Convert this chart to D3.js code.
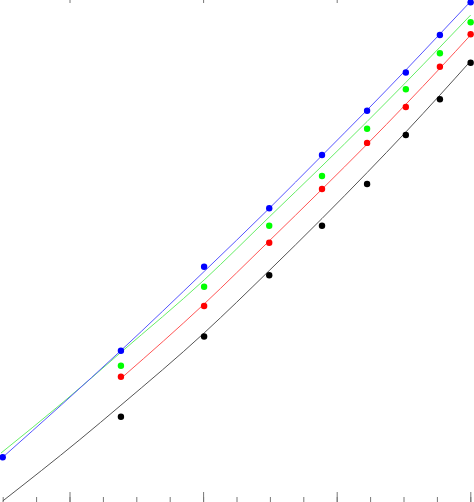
<!DOCTYPE html>
<html lang="en">
  <head>
    <meta charset="UTF-8" />
    <title>Fitted series</title>
    <script src="https://d3js.org/d3.v7.min.js"></script>
    <style>
      body { margin: 0; background: #fff; }
      svg { display: block; }
    </style>
  </head>
  <body>
    <svg width="474" height="502"></svg>
    <script>
      // measured points (x in tick units, y in plot units)
      const xVals = [0, 3.54, 6.03, 7.98, 9.56, 10.91, 12.07, 13.09, 14.01];
      const blueVals = [44.7, 151.3, 235.3, 293.7, 347, 391.3, 429.5, 467, 499.7];
      const greenVals = [null, 136.3, 215.3, 276.3, 326, 373.3, 412.7, 448.8, 479.7];
      const redVals = [null, 125.3, 196, 259.3, 313, 359.1, 395, 435.3, 467.7];
      const blackVals = [null, 85.3, 165.5, 226.7, 276.3, 318, 367, 402.8, 439.3];

      // fitted curves
      const blueFitX = [0, 3.54, 6.03, 7.98, 9.56, 10.91, 12.07, 13.09, 14.01];
      const blueFitY = [44.7, 151.5, 230.5, 293.6, 346.5, 392, 432, 468, 500.6];
      const greenFitX = [-0.05, 1.81, 3.54, 6.03, 7.98, 9.56, 10.91, 12.07, 13.09, 14.01];
      const greenFitY = [49, 99.8, 149.7, 222, 285, 336, 380.5, 419.6, 454.8, 486.9];
      const redFitX = [3.6, 6.03, 7.98, 9.56, 10.91, 12.07, 13.09, 14.01];
      const redFitY = [125.3, 198, 261.1, 312.8, 357.8, 397.7, 433.7, 467];
      const blackFitX = [0, 2.31, 3.54, 6.03, 7.98, 9.56, 10.91, 12.07, 13.09, 14.01];
      const blackFitY = [1, 62.4, 96.8, 169, 231.4, 283.5, 329.4, 370, 406.9, 441];

      const minorTicks = d3.range(0, 15);
      const majorTicks = [2, 6, 10, 14];

      const svg = d3.select('svg');

      const x = d3.scaleLinear().domain([0, 14]).range([2.7, 470.3]);
      const y = d3.scaleLinear().domain([0, 500]).range([502, 2]);

      // inward ticks on bottom and top (axis lines sit just outside the crop)
      const tickColor = '#777';
      function addTicks(axisFn, ty, ticks, size) {
        const g = svg
          .append('g')
          .attr('transform', `translate(0,${ty})`)
          .call(axisFn(x).tickValues(ticks).tickSize(size).tickFormat(''));
        g.select('.domain').remove();
        g.selectAll('line').attr('stroke', tickColor).attr('stroke-width', 1);
      }
      addTicks(d3.axisBottom, 502, minorTicks, -5);
      addTicks(d3.axisBottom, 502, majorTicks, -10);
      addTicks(d3.axisTop, -7, minorTicks, -5);
      addTicks(d3.axisTop, -7, majorTicks, -10);

      const series = [
        { color: '#000000', vals: blackVals, fx: blackFitX, fy: blackFitY, lc: '#555555' },
        { color: '#ff0000', vals: redVals, fx: redFitX, fy: redFitY, lc: '#ff5555' },
        { color: '#00ff00', vals: greenVals, fx: greenFitX, fy: greenFitY, lc: '#66ee66' },
        { color: '#0000ff', vals: blueVals, fx: blueFitX, fy: blueFitY, lc: '#5555ff' },
      ];

      const line = d3
        .line()
        .x((d) => x(d[0]))
        .y((d) => y(d[1]))
        .curve(d3.curveMonotoneX);

      svg
        .append('g')
        .selectAll('path')
        .data(series)
        .join('path')
        .attr('fill', 'none')
        .attr('stroke', (d) => d.lc)
        .attr('stroke-width', 1)
        .attr('d', (d) => line(d3.zip(d.fx, d.fy)));

      series.forEach((s) => {
        const pts = xVals
          .map((xv, i) => [xv, s.vals[i]])
          .filter((p) => p[1] != null);
        svg
          .append('g')
          .selectAll('circle')
          .data(pts)
          .join('circle')
          .attr('cx', (d) => x(d[0]))
          .attr('cy', (d) => y(d[1]))
          .attr('r', 3.2)
          .attr('fill', s.color);
      });
    </script>
  </body>
</html>
